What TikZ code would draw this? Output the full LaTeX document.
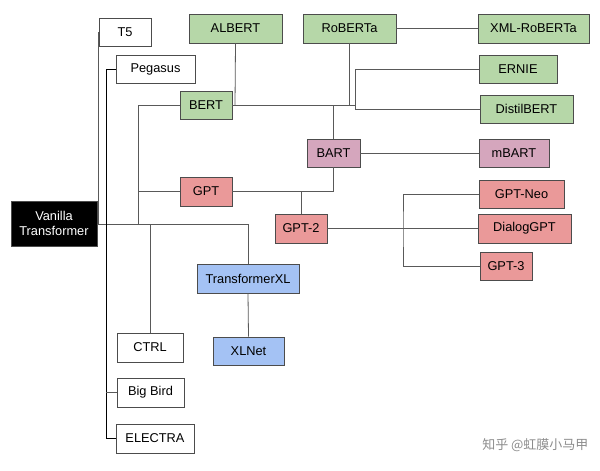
\documentclass[tikz,border=0pt]{standalone}
\usepackage{fontspec}
\setmainfont{Liberation Sans}
\newfontfamily\cjk{Noto Sans CJK SC}
\begin{document}
\begin{tikzpicture}[x=1pt,y=-1pt,
  box/.style={draw=black!70,line width=0.8pt,inner sep=0pt,font=\fontsize{12.8}{14.5}\selectfont,align=center},
  ln/.style={draw=black!65,line width=0.8pt},
  wb/.style={box,fill=white},
  gb/.style={box,fill={rgb,255:red,182;green,215;blue,168}},
  rb/.style={box,fill={rgb,255:red,234;green,153;blue,153}},
  pb/.style={box,fill={rgb,255:red,213;green,166;blue,189}},
  bb/.style={box,fill={rgb,255:red,164;green,194;blue,244}}]
\useasboundingbox (0,0) rectangle (600,471);
\newcommand\bx[7]{\node[#1,minimum width=#4-#3,minimum height=#6-#5] (#2) at ({(#3+#4)/2},{(#5+#6)/2}) {#7};}
\bx{wb}{t5}{99}{151}{18}{46}{T5}
\bx{gb}{albert}{189}{282}{14}{43}{ALBERT}
\bx{gb}{roberta}{303}{396}{14}{43}{RoBERTa}
\bx{gb}{xml}{478}{589}{14}{43}{XML-RoBERTa}
\bx{wb}{pegasus}{116}{195}{55}{83}{Pegasus}
\bx{gb}{ernie}{479}{557}{55}{83}{ERNIE}
\bx{gb}{bert}{180}{232}{91}{119}{BERT}
\bx{gb}{distil}{480}{573}{95}{123}{DistilBERT}
\bx{pb}{bart}{307}{360}{139}{167}{BART}
\bx{pb}{mbart}{479}{549}{139}{167}{mBART}
\bx{rb}{gpt}{180}{232}{177}{206}{GPT}
\bx{rb}{neo}{479}{564}{180}{208}{GPT-Neo}
\node[box,fill=black,text=white,minimum width=86,minimum height=45] (van) at (54,223.5) {Vanilla\\Transformer};
\bx{rb}{gpt2}{275}{327}{214}{243}{GPT-2}
\bx{rb}{dialog}{478}{571}{214}{243}{DialogGPT}
\bx{rb}{gpt3}{480}{532}{252}{280}{GPT-3}
\bx{bb}{txl}{197}{299}{264}{293}{TransformerXL}
\bx{wb}{ctrl}{117}{183}{333}{362}{CTRL}
\bx{bb}{xlnet}{213}{284}{337}{365}{XLNet}
\bx{wb}{bigbird}{117}{184}{378}{407}{Big Bird}
\bx{wb}{electra}{116}{194}{424}{453}{ELECTRA}
\coordinate (v0) at (97,224);
\draw[ln] (v0) -- (248,224) -- (txl.north);
\draw[ln] (98,224) |- (t5.west);
\draw[draw=black,line width=1pt] (106,224) |- (pegasus.west);
\draw[draw=black,line width=1pt] (106,224) |- (electra.west);
\draw[ln] (106,392.5) -- (bigbird.west);
\draw[ln] (138,224) |- (bert.west);
\draw[ln] (138,191.5) -- (gpt.west);
\draw[ln] (150,224) -- (ctrl.north);
\draw[ln] (bert.east) -- (355,105);
\draw[ln] (albert.south) -- (235,105);
\draw[ln] (roberta.south) -- (349.5,105);
\draw[ln] (ernie.west) -| (355,109) -- (distil.west);
\draw[ln] (roberta.east) -- (xml.west);
\draw[ln] (333.5,105) -- (bart.north);
\draw[ln] (bart.south) -- (333.5,191.5) -- (gpt.east);
\draw[ln] (bart.east) -- (mbart.west);
\draw[ln] (301,191.5) -- (gpt2.north);
\draw[ln] (gpt2.east) -- (dialog.west);
\draw[ln] (neo.west) -| (403,228) |- (gpt3.west);
\draw[ln] (txl.south) -- (xlnet.north);
\node[text=black!45,font=\cjk\fontsize{13}{15}\selectfont,anchor=east] (wm) at (592,445) {知乎 @虹膜小马甲};
\end{tikzpicture}
\end{document}
